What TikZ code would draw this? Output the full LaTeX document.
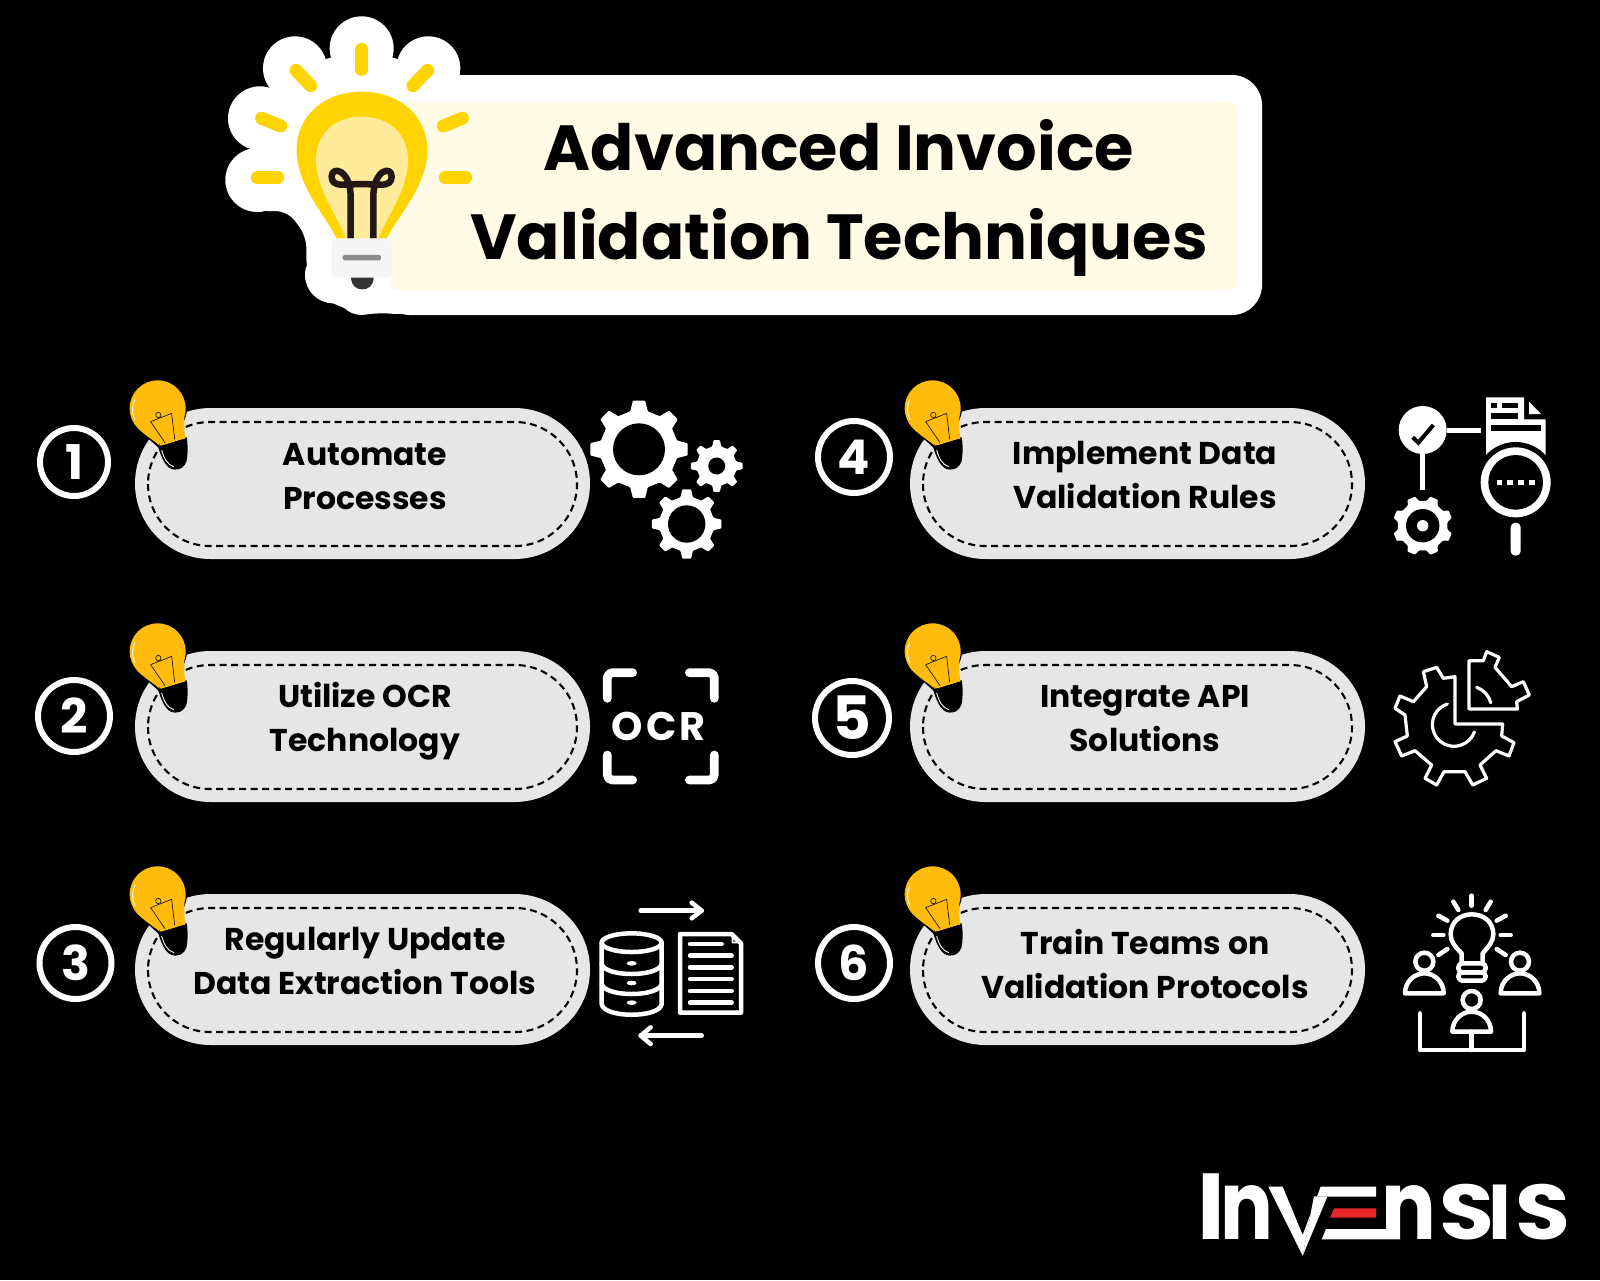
\documentclass[tikz,border=0pt]{standalone}
\usepackage{fontspec}
\usepackage{graphicx}
\setmainfont{Poppins}
\definecolor{bulbY}{HTML}{FFD400}
\definecolor{bulbI}{HTML}{FFEB99}
\definecolor{fil}{HTML}{231815}
\definecolor{cream}{HTML}{FFFBE6}
\definecolor{pillg}{HTML}{E6E6E6}
\definecolor{smallY}{HTML}{FFBC0D}
\definecolor{logored}{HTML}{E8262A}
\tikzset{
  zoomed/.style={x=0.33333bp,y=-0.33333bp},
  titletext/.style={anchor=base,inner sep=0,font=\fontsize{64}{64}\selectfont\bfseries,text=black},
  labeltext/.style={anchor=base,inner sep=0,font=\fontsize{31.6}{32}\selectfont\bfseries,text=black},
  numcircle/.style={circle,draw=white,line width=6bp,inner sep=0,text=white,font=\fontsize{48}{48}\selectfont\bfseries},
  iconline/.style={draw=white,line cap=round,line join=round,fill=none},
  logotext/.style={anchor=base west,inner sep=0,text=white,font=\bfseries},
}
% pill: left, top
\newcommand{\pillbox}[2]{%
  \fill[pillg,rounded corners=75.5bp] (#1,#2) rectangle ++(455,151);
  \draw[black,line width=2.1bp,dash pattern=on 7bp off 4.5bp,rounded corners=62bp] (#1+13,#2+14) rectangle ++(429,124);
}
% small bulb in zoom coordinates, offset from first
\newcommand{\smallbulb}[2]{%
\begin{scope}[shift={(20+#1,370+#2)},zoomed]
  \fill[black,line join=round,draw=black,line width=2.5bp] (413,115) circle (84);
  \path[fill=black,draw=black,line width=2.5bp,line join=round] (345,165) .. controls (365,190) and (395,205) .. (420,228) -- (497,205) .. controls (505,270) and (490,295) .. (465,295) .. controls (440,295) and (428,260) .. (418,230) -- cycle;
  \fill[smallY] (413,115) circle (84);
  \fill[smallY] (340,155) .. controls (360,190) and (395,205) .. (420,228) -- (497,205) .. controls (490,180) and (495,160) .. (493,135) -- cycle;
  \fill[black,rounded corners=3bp] (418,230) -- (497,205) -- (502,265) .. controls (495,290) and (480,298) .. (465,296) .. controls (445,295) and (430,265) .. (418,230) -- cycle;
  \draw[white,line width=0.9bp] (345,88) .. controls (335,105) and (335,130) .. (345,150);
  \draw[white,line width=0.9bp] (425,240) .. controls (432,265) and (442,285) .. (462,290);
  \draw[fil,line width=0.7bp,line join=round] (435,218) -- (392,155) -- (455,130) -- (464,208);
  \draw[fil,line width=0.7bp] (415,135) circle (8);
\end{scope}}
\newcommand{\gearshape}[7]{% cx cy Ro Ri n halfroot halftip
  \fill[white,line join=round,rounded corners=0.8bp,shift={(#1,#2)}]
    (#7-#6:#4)
    \foreach \k in {1,...,#5}{
      -- ({#7+(\k-1)*360/#5-#6}:#4)
      -- ({#7+(\k-1)*360/#5-#6*0.55}:#3)
      -- ({#7+(\k-1)*360/#5+#6*0.55}:#3)
      -- ({#7+(\k-1)*360/#5+#6}:#4)
    } -- cycle;
}
\begin{document}
\begin{tikzpicture}[x=1bp,y=-1bp]
\useasboundingbox (0,0) rectangle (1600,1280);
\fill[black] (0,0) rectangle (1600,1280);

% ---- title panel
\fill[white,rounded corners=30bp] (380,75) rectangle (1262,315);
\begin{scope}[shift={(200,0)},zoomed]
  \fill[white,rounded corners=12bp] (172,540) -- (180,355) -- (285,205) -- (485,145) -- (685,205) -- (780,228) -- (800,800) -- (620,945) -- (540,938) -- (485,945) -- (410,915) -- (345,885) -- (318,800) -- (320,710) -- (262,632) -- (172,635) -- cycle;
  \foreach \p/\q in {485/145,285/205,685/205,180/355,172/540}{\fill[white] (\p,\q) circle (96);}
  \fill[white] (485,870) circle (75);
  \fill[white] (400,825) circle (85);
\end{scope}
\fill[cream,rounded corners=8bp] (390,102) rectangle (1237,290);
\begin{scope}[shift={(200,0)},zoomed]
  % bulb
  \fill[bulbY] (410,716) .. controls (380,650) and (290,560) .. (290,450) .. controls (290,345) and (375,275) .. (485,275) .. controls (595,275) and (682,345) .. (682,450) .. controls (682,560) and (590,650) .. (560,716) -- cycle;
  \fill[bulbI] (437,716) .. controls (415,650) and (348,570) .. (348,480) .. controls (348,400) and (405,350) .. (485,350) .. controls (565,350) and (624,400) .. (624,480) .. controls (624,570) and (560,650) .. (535,716) -- cycle;
  \draw[fil,line width=6.5bp,line join=round] (452,716) -- (452,590) .. controls (452,510) and (395,495) .. (395,530) .. controls (395,565) and (440,552) .. (485,552) .. controls (530,552) and (575,565) .. (575,530) .. controls (575,495) and (520,510) .. (520,590) -- (520,716);
  % base
  \fill[white!96!black,rounded corners=6bp] (395,715) rectangle (575,832);
  \fill[white!55!black,rounded corners=1.5bp] (428,765) rectangle (543,781);
  \fill[black!80] (453,833) -- (521,833) .. controls (520,858) and (505,868) .. (487,868) .. controls (468,868) and (455,858) .. (453,833) -- cycle;
  % rays
  \foreach \a/\b/\c/\d in {485/148/485/208, 288/211/332/257, 683/211/639/257, 185/355/242/378, 787/355/730/378, 172/533/233/533, 736/533/797/533}{
    \draw[bulbY,line width=13bp,line cap=round] (\a,\b) -- (\c,\d);}
\end{scope}
\node[titletext] (title1) at (839,170) {Advanced Invoice};
\node[titletext] (title2) at (839,259) {Validation Techniques};

% ---- pills
\pillbox{135}{408}\pillbox{135}{651}\pillbox{135}{894}
\pillbox{910}{408}\pillbox{910}{651}\pillbox{910}{894}
\smallbulb{0}{0}\smallbulb{0}{243}\smallbulb{0}{486}
\smallbulb{775}{0}\smallbulb{775}{243}\smallbulb{775}{486}

\node[labeltext] (l1a) at (365,465) {Automate};
\node[labeltext] (l1b) at (365,509) {Processes};
\node[labeltext] (l2a) at (365,707) {Utilize OCR};
\node[labeltext] (l2b) at (365,751) {Technology};
\node[labeltext] (l3a) at (365,950) {Regularly Update};
\node[labeltext] (l3b) at (365,994) {Data Extraction Tools};
\node[labeltext] (l4a) at (1145,464) {Implement Data};
\node[labeltext] (l4b) at (1145,508) {Validation Rules};
\node[labeltext] (l5a) at (1145,707) {Integrate API};
\node[labeltext] (l5b) at (1145,751) {Solutions};
\node[labeltext] (l6a) at (1145,954) {Train Teams on};
\node[labeltext] (l6b) at (1145,998) {Validation Protocols};

% ---- numbers
\node[numcircle,minimum size=68bp] (n1) at (74,462) {1};
\node[numcircle,minimum size=72bp] (n2) at (74,716) {2};
\node[numcircle,minimum size=72bp] (n3) at (75.5,963) {3};
\node[numcircle,minimum size=72bp] (n4) at (854,457) {4};
\node[numcircle,minimum size=74bp,font=\fontsize{60}{60}\selectfont\bfseries] (n5) at (852,718) {5};
\node[numcircle,minimum size=72bp] (n6) at (854,963) {6};

% ---- icon 1: gears
\gearshape{639}{449.3}{49}{39}{8}{13}{0}
\fill[black] (639,449.3) circle (26);
\gearshape{716.7}{466}{26}{20}{8}{13}{0}
\fill[black] (716.7,466) circle (8.5);
\gearshape{686.7}{524}{35}{27.5}{8}{13}{0}
\fill[black] (686.7,524) circle (18.7);

% ---- icon 2: OCR
\begin{scope}[shift={(590,650)},zoomed]
  \begin{scope}[iconline,line width=8.7bp]
    \draw[rounded corners=5bp] (52,145) -- (52,68) -- (128,68);
    \draw[rounded corners=5bp] (298,68) -- (373,68) -- (373,145);
    \draw[rounded corners=5bp] (52,315) -- (52,390) -- (128,390);
    \draw[rounded corners=5bp] (298,390) -- (373,390) -- (373,315);
  \end{scope}
  \node[inner sep=0,text=white,font=\fontsize{40}{40}\selectfont\bfseries\addfontfeature{LetterSpace=8}] (ocr) at (206,230) {OCR};
\end{scope}

% ---- icon 3: database and document
\begin{scope}[shift={(590,890)},zoomed]
  \begin{scope}[iconline,line width=4.5bp]
    \draw (152,62) -- (335,62);
    \draw (305,38) -- (335,62) -- (305,85);
    \draw (335,437) -- (152,437);
    \draw (182,412) -- (152,437) -- (182,462);
    \draw (125,158) ellipse (90 and 28);
    \draw (35,158) -- (35,342) .. controls (40,385) and (210,385) .. (215,342) -- (215,158);
    \draw (35,222) .. controls (45,262) and (205,262) .. (215,222);
    \draw (35,282) .. controls (45,322) and (205,322) .. (215,282);
    \draw (270,132) -- (425,132) -- (453,160) -- (453,368) -- (270,368) -- cycle;
    \draw (300,162) -- (395,162);
    \foreach \yy in {197,232,267,303,338}{\draw (300,\yy) -- (425,\yy);}
  \end{scope}
  \fill[white] (425,132) -- (425,160) -- (453,160) -- cycle;
  \fill[black] (430,148) -- (430,155) -- (437,155) -- cycle;
  \foreach \yy in {220,279,338}{\fill[white] (125,\yy) ellipse (15 and 7);}
\end{scope}

% ---- icon 4: validation
\begin{scope}[shift={(1370,380)},zoomed]
  \fill[white] (158,150) circle (72);
  \draw[black,line width=4bp] (128,172) -- (145,188) -- (190,135);
  \draw[white,line width=5bp] (232,150) -- (332,150);
  \draw[white,line width=5bp] (158,222) -- (158,330);
  \fill[white] (348,52) -- (462,52) -- (462,118) -- (527,118) -- (527,225) -- (348,225) -- cycle;
  \fill[white] (477,65) -- (513,102) -- (477,102) -- cycle;
  \fill[black] (362,68) rectangle (380,85);
  \fill[black] (395,68) rectangle (445,85);
  \fill[black] (362,100) rectangle (445,118);
  \fill[black] (362,135) rectangle (512,152);
  \fill[black] (437,307) circle (121);
  \fill[white] (437,307) circle (105);
  \fill[black] (437,307) circle (82);
  \foreach \xx in {380,412,445,478}{\fill[white] (\xx,299) rectangle ++(17,16);}
  \fill[white,rounded corners=4.5bp] (422,428) rectangle (452,527);
\end{scope}
\gearshape{1422.7}{525.7}{30}{25}{8}{14}{22.5}
\fill[black] (1422.7,525.7) circle (16.7);
\fill[white] (1422.7,525.7) circle (5.7);

% ---- icon 5: gear with slice
\begin{scope}[shift={(1370,630)},zoomed]
  \begin{scope}[iconline,line width=3.2bp]
    \draw (255,140) -- (255,282) -- (398,282) -- (395,318) -- (432,338) -- (417,378) -- (378,362) -- (330,405) -- (350,445) -- (308,465) -- (285,425) -- (222,425) -- (200,465) -- (165,445) -- (185,405) -- (135,362) -- (95,378) -- (75,335) -- (112,318) -- (105,255) -- (75,235) -- (90,198) -- (130,215) -- (170,170) -- (160,125) -- (200,112) -- (220,145) -- cycle;
    \draw (232,222) arc[start angle=252,end angle=20,radius=65];
    \draw (297,92) -- (340,92) -- (350,65) -- (388,82) -- (375,112) -- (425,170) -- (460,155) -- (478,195) -- (440,215) -- (442,237) -- (297,237) -- cycle;
    \draw (320,172) arc[start angle=290,end angle=345,radius=68];
  \end{scope}
\end{scope}

% ---- icon 6: team and idea
\begin{scope}[shift={(1390,885)},zoomed]
  \begin{scope}[iconline,line width=4.5bp]
    \foreach \a/\b/\c/\d in {245/32/245/62, 190/50/205/75, 302/50/287/75, 145/92/172/107, 347/92/320/107, 130/150/160/150, 332/150/362/150, 145/210/172/192, 347/210/320/192}{\draw (\a,\b) -- (\c,\d);}
    \draw (215,235) -- (215,205) .. controls (195,185) and (182,170) .. (182,148) .. controls (182,110) and (212,88) .. (245,88) .. controls (280,88) and (310,110) .. (310,148) .. controls (310,170) and (295,185) .. (278,205) -- (278,235);
    \draw[rounded corners=4bp] (205,235) rectangle (287,262);
    \draw[rounded corners=4bp] (205,262) rectangle (287,287);
    \foreach \hx/\hy in {103/230,390/230,245/345}{
      \draw (\hx,\hy) circle (27);
      \draw (\hx-58,\hy+95) -- (\hx+58,\hy+95) .. controls (\hx+58,\hy+60) and (\hx+30,\hy+35) .. (\hx,\hy+35) .. controls (\hx-30,\hy+35) and (\hx-58,\hy+60) .. (\hx-58,\hy+95) -- cycle;
    }
    \draw (245,440) -- (245,495);
    \draw (90,385) -- (90,495) -- (402,495) -- (402,385);
  \end{scope}
\end{scope}

% ---- logo
\node[logotext,font=\fontsize{94}{94}\selectfont\bfseries] (logoI) at (1197,1239.3) {I};
\node[logotext] (logon) at (1220,1239.3) {\fontsize{96}{96}\selectfont\bfseries\scalebox{0.82}[1]{n}};
\begin{scope}[shift={(1190,1160)},zoomed]
  \fill[white] (235,80) -- (278,80) -- (338,225) -- (392,80) -- (558,80) -- (558,110) -- (372,110) -- (338,287) -- cycle;
  \fill[white] (338,287) -- (372,110) -- (412,110) -- cycle;
  \fill[white] (590,80) -- (630,80) -- (630,238) -- (395,238) -- (408,207) -- (590,207) -- cycle;
  \fill[logored] (432,145) -- (558,145) -- (558,173) -- (420,173) -- cycle;
\end{scope}
\node[logotext] (logon2) at (1381,1239.3) {\fontsize{96}{96}\selectfont\bfseries\scalebox{0.85}[1]{n}};
\node[logotext] (logos) at (1439,1239.3) {\fontsize{78}{78}\selectfont\bfseries\scalebox{1.15}[1]{S}};
\node[logotext,font=\fontsize{78}{78}\selectfont\bfseries] (logoi) at (1488,1239.3) {I};
\node[logotext] (logos2) at (1515,1239.3) {\fontsize{78}{78}\selectfont\bfseries\scalebox{1.15}[1]{S}};
\end{tikzpicture}
\end{document}
